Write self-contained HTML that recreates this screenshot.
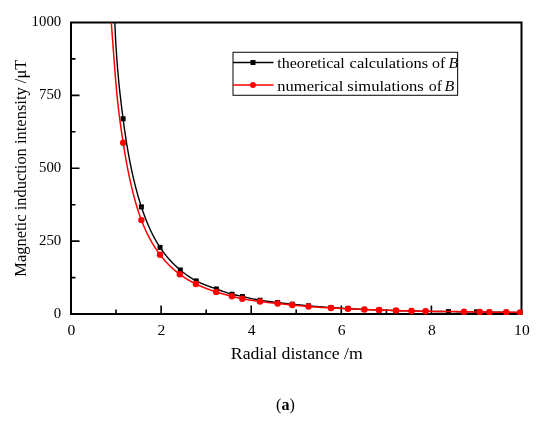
<!DOCTYPE html>
<html><head><meta charset="utf-8"><title>Figure</title>
<style>html,body{margin:0;padding:0;background:#fff;}body{width:550px;height:431px;overflow:hidden;}svg{display:block;}</style>
</head><body>
<svg width="550" height="431" viewBox="0 0 550 431">
<defs><clipPath id="pc"><rect x="70.0" y="22.5" width="452.5" height="292.5"/></clipPath></defs>
<path d="M71.0,22.5 H521.5 V314.0 H71.0 Z" stroke="#000" stroke-width="2" fill="none" stroke-linecap="square"/>
<path d="M116.0,314.0 v-4.5 M161.1,314.0 v-8.5 M206.2,314.0 v-4.5 M251.2,314.0 v-8.5 M296.2,314.0 v-4.5 M341.3,314.0 v-8.5 M386.4,314.0 v-4.5 M431.4,314.0 v-8.5 M476.4,314.0 v-4.5 M71.0,277.6 h4.5 M71.0,241.1 h8.5 M71.0,204.7 h4.5 M71.0,168.2 h8.5 M71.0,131.8 h4.5 M71.0,95.4 h8.5 M71.0,58.9 h4.5" stroke="#000" stroke-width="1.6" fill="none"/>
<g clip-path="url(#pc)">
<polyline points="114.80,22.50 115.06,28.08 115.31,33.52 115.57,38.72 115.83,43.56 116.10,47.95 116.36,51.98 116.63,55.84 116.89,59.55 117.16,63.10 117.43,66.52 117.70,69.82 117.98,73.00 118.25,76.08 118.53,79.05 118.81,81.94 119.09,84.75 119.37,87.48 119.65,90.15 119.93,92.76 120.22,95.32 120.51,97.84 120.80,100.32 121.09,102.76 121.38,105.18 121.68,107.57 121.97,109.95 122.27,112.32 122.57,114.68 122.87,117.04 123.18,119.40 123.48,121.74 123.79,124.04 124.10,126.31 124.41,128.54 124.72,130.74 125.04,132.91 125.35,135.05 125.67,137.15 125.99,139.23 126.31,141.27 126.64,143.29 126.96,145.28 127.29,147.24 127.62,149.18 127.95,151.09 128.28,152.97 128.62,154.83 128.96,156.67 129.29,158.48 129.64,160.27 129.98,162.03 130.32,163.77 130.67,165.50 131.02,167.20 131.37,168.87 131.72,170.53 132.08,172.17 132.44,173.79 132.80,175.39 133.16,176.97 133.52,178.54 133.89,180.08 134.26,181.61 134.63,183.12 135.00,184.61 135.37,186.09 135.75,187.55 136.13,188.99 136.51,190.42 136.89,191.84 137.28,193.24 137.67,194.62 138.06,195.99 138.45,197.35 138.84,198.69 139.24,200.02 139.64,201.34 140.04,202.64 140.44,203.93 140.85,205.21 141.26,206.47 141.67,207.72 142.08,208.96 142.50,210.19 142.92,211.40 143.34,212.60 143.76,213.78 144.19,214.95 144.62,216.11 145.05,217.26 145.48,218.39 145.92,219.51 146.36,220.61 146.80,221.71 147.24,222.79 147.69,223.86 148.13,224.92 148.59,225.96 149.04,227.00 149.50,228.02 149.96,229.03 150.42,230.02 150.88,231.01 151.35,231.99 151.82,232.95 152.29,233.90 152.77,234.84 153.25,235.77 153.73,236.69 154.21,237.60 154.70,238.50 155.19,239.38 155.68,240.26 156.18,241.13 156.68,241.98 157.18,242.83 157.68,243.67 158.19,244.49 158.70,245.31 159.21,246.11 159.73,246.91 160.25,247.70 160.77,248.47 161.29,249.24 161.82,250.00 162.35,250.75 162.89,251.49 163.43,252.22 163.97,252.94 164.51,253.65 165.06,254.35 165.61,255.05 166.16,255.74 166.72,256.41 167.28,257.09 167.84,257.75 168.41,258.41 168.98,259.06 169.55,259.70 170.13,260.33 170.71,260.96 171.29,261.58 171.88,262.19 172.47,262.80 173.06,263.40 173.66,263.99 174.26,264.58 174.86,265.16 175.47,265.74 176.08,266.31 176.70,266.87 177.32,267.43 177.94,267.98 178.57,268.53 179.19,269.07 179.83,269.61 180.46,270.14 181.10,270.66 181.75,271.19 182.40,271.71 183.05,272.23 183.70,272.74 184.36,273.25 185.03,273.75 185.69,274.25 186.37,274.74 187.04,275.23 187.72,275.71 188.40,276.18 189.09,276.65 189.78,277.11 190.48,277.56 191.17,278.00 191.88,278.44 192.59,278.87 193.30,279.29 194.01,279.70 194.73,280.11 195.46,280.50 196.18,280.89 196.92,281.27 197.65,281.64 198.39,282.00 199.14,282.35 199.89,282.69 200.64,283.03 201.40,283.36 202.17,283.68 202.93,284.00 203.70,284.31 204.48,284.62 205.26,284.93 206.05,285.24 206.84,285.54 207.63,285.84 208.43,286.13 209.24,286.43 210.05,286.73 210.86,287.02 211.68,287.32 212.50,287.61 213.33,287.91 214.16,288.20 215.00,288.50 215.84,288.80 216.69,289.10 217.54,289.41 218.40,289.72 219.26,290.03 220.13,290.35 221.00,290.66 221.88,290.98 222.76,291.29 223.65,291.60 224.54,291.91 225.44,292.21 226.35,292.51 227.25,292.80 228.17,293.08 229.09,293.36 230.01,293.63 230.94,293.89 231.88,294.14 232.82,294.38 233.77,294.61 234.72,294.84 235.68,295.05 236.64,295.26 237.61,295.47 238.59,295.68 239.57,295.89 240.55,296.10 241.54,296.31 242.54,296.53 243.55,296.76 244.56,296.99 245.57,297.22 246.59,297.46 247.62,297.69 248.65,297.93 249.69,298.16 250.74,298.40 251.79,298.63 252.85,298.85 253.91,299.07 254.98,299.29 256.06,299.50 257.14,299.70 258.23,299.90 259.33,300.09 260.43,300.27 261.54,300.44 262.65,300.61 263.77,300.77 264.90,300.92 266.04,301.08 267.18,301.23 268.32,301.37 269.48,301.52 270.64,301.66 271.81,301.80 272.98,301.94 274.17,302.09 275.35,302.23 276.55,302.37 277.75,302.52 278.96,302.67 280.18,302.81 281.40,302.96 282.63,303.11 283.87,303.25 285.12,303.40 286.37,303.54 287.63,303.68 288.90,303.83 290.17,303.97 291.46,304.11 292.75,304.25 294.04,304.39 295.35,304.52 296.66,304.66 297.98,304.79 299.31,304.93 300.65,305.06 301.99,305.19 303.34,305.32 304.70,305.45 306.07,305.58 307.44,305.70 308.83,305.83 310.22,305.95 311.62,306.08 313.03,306.20 314.44,306.33 315.87,306.45 317.30,306.57 318.74,306.69 320.19,306.80 321.65,306.92 323.11,307.03 324.59,307.15 326.07,307.26 327.57,307.36 329.07,307.47 330.58,307.57 332.10,307.67 333.62,307.77 335.16,307.87 336.71,307.96 338.26,308.06 339.83,308.15 341.40,308.24 342.98,308.33 344.57,308.41 346.17,308.50 347.78,308.59 349.40,308.67 351.03,308.76 352.67,308.84 354.32,308.93 355.98,309.01 357.64,309.09 359.32,309.17 361.01,309.25 362.70,309.32 364.41,309.40 366.13,309.48 367.85,309.55 369.59,309.62 371.34,309.69 373.10,309.77 374.86,309.84 376.64,309.91 378.43,309.97 380.23,310.04 382.04,310.11 383.86,310.18 385.69,310.25 387.53,310.32 389.38,310.38 391.24,310.45 393.12,310.51 395.00,310.57 396.90,310.63 398.81,310.68 400.72,310.73 402.65,310.78 404.59,310.83 406.55,310.88 408.51,310.93 410.48,310.98 412.47,311.02 414.47,311.07 416.48,311.12 418.50,311.16 420.53,311.20 422.58,311.25 424.64,311.28 426.70,311.32 428.79,311.35 430.88,311.38 432.99,311.41 435.10,311.44 437.23,311.47 439.38,311.49 441.53,311.52 443.70,311.54 445.88,311.57 448.07,311.59 450.28,311.62 452.50,311.65 454.73,311.67 456.98,311.69 459.24,311.71 461.51,311.74 463.79,311.76 466.09,311.78 468.40,311.81 470.73,311.83 473.07,311.86 475.42,311.89 477.79,311.92 480.17,311.95 482.56,311.99 484.97,312.03 487.39,312.07 489.83,312.11 492.28,312.14 494.74,312.17 497.22,312.20 499.72,312.23 502.22,312.26 504.75,312.29 507.29,312.31 509.84,312.33 512.41,312.35 514.99,312.37 517.59,312.38 520.20,312.40" fill="none" stroke="#000" stroke-width="1.4" stroke-linejoin="round"/>
<rect x="120.60" y="116.30" width="5" height="5" fill="#000"/>
<rect x="138.90" y="204.40" width="5" height="5" fill="#000"/>
<rect x="157.55" y="244.90" width="5" height="5" fill="#000"/>
<rect x="177.80" y="267.50" width="5" height="5" fill="#000"/>
<rect x="193.70" y="278.40" width="5" height="5" fill="#000"/>
<rect x="213.90" y="286.50" width="5" height="5" fill="#000"/>
<rect x="229.60" y="291.70" width="5" height="5" fill="#000"/>
<rect x="239.90" y="294.00" width="5" height="5" fill="#000"/>
<rect x="257.50" y="297.70" width="5" height="5" fill="#000"/>
<rect x="275.10" y="300.00" width="5" height="5" fill="#000"/>
<rect x="289.80" y="301.70" width="5" height="5" fill="#000"/>
<rect x="306.00" y="303.30" width="5" height="5" fill="#000"/>
<rect x="328.50" y="305.10" width="5" height="5" fill="#000"/>
<rect x="345.50" y="306.10" width="5" height="5" fill="#000"/>
<rect x="361.90" y="306.90" width="5" height="5" fill="#000"/>
<rect x="376.60" y="307.50" width="5" height="5" fill="#000"/>
<rect x="393.50" y="308.10" width="5" height="5" fill="#000"/>
<rect x="409.00" y="308.50" width="5" height="5" fill="#000"/>
<rect x="423.10" y="308.80" width="5" height="5" fill="#000"/>
<rect x="446.00" y="309.10" width="5" height="5" fill="#000"/>
<rect x="474.00" y="309.40" width="5" height="5" fill="#000"/>
<rect x="486.90" y="309.60" width="5" height="5" fill="#000"/>
<rect x="503.80" y="309.80" width="5" height="5" fill="#000"/>
<rect x="517.70" y="309.90" width="5" height="5" fill="#000"/>
<polyline points="111.30,22.50 111.54,25.85 111.79,29.19 112.04,32.53 112.29,35.87 112.54,39.21 112.79,42.55 113.04,45.91 113.30,49.27 113.55,52.67 113.81,56.10 114.07,59.55 114.33,63.00 114.59,66.44 114.86,69.87 115.12,73.26 115.39,76.61 115.66,79.91 115.93,83.15 116.20,86.32 116.48,89.41 116.75,92.42 117.03,95.33 117.31,98.14 117.59,100.85 117.87,103.48 118.16,106.04 118.44,108.53 118.73,110.96 119.02,113.33 119.31,115.65 119.60,117.93 119.90,120.17 120.19,122.37 120.49,124.54 120.79,126.68 121.09,128.79 121.40,130.89 121.70,132.96 122.01,135.02 122.32,137.07 122.63,139.11 122.94,141.14 123.26,143.17 123.57,145.19 123.89,147.19 124.21,149.17 124.54,151.13 124.86,153.07 125.19,154.99 125.52,156.89 125.85,158.77 126.18,160.63 126.51,162.47 126.85,164.30 127.19,166.10 127.53,167.89 127.87,169.65 128.22,171.40 128.56,173.12 128.91,174.83 129.26,176.52 129.62,178.19 129.97,179.84 130.33,181.47 130.69,183.08 131.05,184.67 131.41,186.24 131.78,187.80 132.15,189.33 132.52,190.85 132.89,192.35 133.27,193.83 133.64,195.29 134.02,196.74 134.41,198.16 134.79,199.57 135.18,200.96 135.57,202.33 135.96,203.69 136.35,205.02 136.75,206.34 137.15,207.65 137.55,208.93 137.95,210.20 138.36,211.45 138.76,212.68 139.18,213.90 139.59,215.10 140.00,216.29 140.42,217.46 140.84,218.61 141.27,219.75 141.69,220.87 142.12,221.97 142.55,223.06 142.99,224.14 143.42,225.20 143.86,226.25 144.30,227.28 144.75,228.30 145.19,229.31 145.64,230.30 146.10,231.28 146.55,232.25 147.01,233.21 147.47,234.16 147.93,235.09 148.40,236.01 148.87,236.92 149.34,237.82 149.82,238.71 150.29,239.59 150.77,240.46 151.26,241.32 151.74,242.17 152.23,243.01 152.73,243.84 153.22,244.66 153.72,245.47 154.22,246.27 154.73,247.07 155.23,247.85 155.74,248.63 156.26,249.40 156.77,250.16 157.29,250.91 157.82,251.65 158.34,252.39 158.87,253.12 159.40,253.84 159.94,254.56 160.48,255.26 161.02,255.96 161.57,256.65 162.12,257.34 162.67,258.01 163.22,258.68 163.78,259.35 164.35,260.00 164.91,260.65 165.48,261.29 166.05,261.92 166.63,262.54 167.21,263.16 167.79,263.77 168.38,264.38 168.97,264.97 169.56,265.57 170.16,266.15 170.76,266.73 171.37,267.30 171.97,267.86 172.59,268.42 173.20,268.97 173.82,269.51 174.45,270.05 175.07,270.58 175.70,271.11 176.34,271.63 176.98,272.14 177.62,272.64 178.26,273.15 178.92,273.64 179.57,274.13 180.23,274.61 180.89,275.09 181.56,275.56 182.23,276.03 182.90,276.49 183.58,276.95 184.26,277.40 184.95,277.85 185.64,278.29 186.33,278.72 187.03,279.15 187.73,279.58 188.44,280.00 189.15,280.41 189.87,280.83 190.59,281.23 191.32,281.63 192.04,282.03 192.78,282.42 193.52,282.80 194.26,283.18 195.01,283.56 195.76,283.93 196.51,284.30 197.27,284.66 198.04,285.01 198.81,285.36 199.58,285.71 200.36,286.05 201.15,286.39 201.94,286.72 202.73,287.05 203.53,287.38 204.33,287.70 205.14,288.01 205.95,288.33 206.77,288.64 207.59,288.95 208.42,289.25 209.26,289.55 210.09,289.85 210.94,290.15 211.78,290.44 212.64,290.73 213.50,291.02 214.36,291.30 215.23,291.59 216.10,291.87 216.98,292.15 217.87,292.42 218.76,292.70 219.65,292.97 220.55,293.24 221.46,293.50 222.37,293.77 223.29,294.03 224.21,294.29 225.14,294.54 226.08,294.80 227.02,295.05 227.96,295.30 228.91,295.55 229.87,295.79 230.83,296.03 231.80,296.28 232.78,296.52 233.76,296.76 234.74,297.00 235.74,297.24 236.73,297.48 237.74,297.72 238.75,297.95 239.77,298.18 240.79,298.39 241.82,298.60 242.85,298.81 243.90,299.01 244.94,299.20 246.00,299.39 247.06,299.57 248.13,299.75 249.20,299.93 250.28,300.10 251.37,300.27 252.46,300.44 253.56,300.60 254.67,300.76 255.78,300.92 256.90,301.08 258.03,301.23 259.16,301.39 260.30,301.54 261.45,301.69 262.60,301.83 263.76,301.97 264.93,302.11 266.11,302.25 267.29,302.38 268.48,302.52 269.68,302.65 270.88,302.78 272.09,302.91 273.31,303.04 274.54,303.17 275.77,303.31 277.01,303.44 278.26,303.57 279.52,303.70 280.78,303.84 282.05,303.97 283.33,304.10 284.62,304.23 285.91,304.36 287.22,304.50 288.53,304.63 289.84,304.76 291.17,304.89 292.51,305.02 293.85,305.15 295.20,305.28 296.56,305.42 297.93,305.55 299.30,305.68 300.68,305.82 302.08,305.95 303.48,306.07 304.89,306.20 306.30,306.32 307.73,306.44 309.17,306.55 310.61,306.67 312.06,306.78 313.52,306.89 314.99,306.99 316.47,307.10 317.96,307.20 319.46,307.30 320.96,307.40 322.48,307.50 324.00,307.59 325.53,307.69 327.08,307.78 328.63,307.87 330.19,307.96 331.76,308.04 333.34,308.12 334.93,308.20 336.53,308.28 338.14,308.36 339.76,308.43 341.39,308.51 343.03,308.58 344.68,308.65 346.34,308.73 348.01,308.80 349.68,308.88 351.37,308.95 353.07,309.03 354.78,309.10 356.50,309.18 358.23,309.25 359.97,309.33 361.73,309.40 363.49,309.47 365.26,309.53 367.04,309.60 368.84,309.66 370.64,309.72 372.46,309.78 374.29,309.84 376.13,309.90 377.97,309.96 379.84,310.02 381.71,310.08 383.59,310.14 385.49,310.19 387.39,310.25 389.31,310.30 391.24,310.36 393.18,310.41 395.13,310.47 397.10,310.53 399.07,310.60 401.06,310.67 403.06,310.74 405.08,310.81 407.10,310.87 409.14,310.94 411.19,310.99 413.25,311.04 415.32,311.09 417.41,311.14 419.51,311.19 421.62,311.23 423.75,311.27 425.89,311.30 428.04,311.34 430.20,311.36 432.38,311.39 434.57,311.41 436.77,311.43 438.99,311.45 441.22,311.47 443.46,311.49 445.72,311.51 447.99,311.53 450.28,311.55 452.58,311.57 454.89,311.59 457.22,311.62 459.56,311.64 461.91,311.67 464.28,311.70 466.66,311.74 469.06,311.79 471.48,311.84 473.90,311.90 476.35,311.94 478.80,311.99 481.27,312.02 483.76,312.04 486.26,312.07 488.78,312.09 491.31,312.12 493.86,312.15 496.42,312.19 499.00,312.22 501.59,312.25 504.20,312.28 506.83,312.30 509.47,312.33 512.13,312.35 514.80,312.37 517.49,312.38 520.20,312.40" fill="none" stroke="#f00" stroke-width="1.5" stroke-linejoin="round"/>
<circle cx="123.20" cy="142.80" r="3.2" fill="#f00"/>
<circle cx="141.40" cy="220.10" r="3.2" fill="#f00"/>
<circle cx="160.05" cy="254.70" r="3.2" fill="#f00"/>
<circle cx="179.80" cy="274.30" r="3.2" fill="#f00"/>
<circle cx="195.90" cy="284.00" r="3.2" fill="#f00"/>
<circle cx="216.20" cy="291.90" r="3.2" fill="#f00"/>
<circle cx="231.90" cy="296.30" r="3.2" fill="#f00"/>
<circle cx="242.30" cy="298.70" r="3.2" fill="#f00"/>
<circle cx="260.00" cy="301.50" r="3.2" fill="#f00"/>
<circle cx="277.60" cy="303.50" r="3.2" fill="#f00"/>
<circle cx="292.30" cy="305.00" r="3.2" fill="#f00"/>
<circle cx="308.50" cy="306.50" r="3.2" fill="#f00"/>
<circle cx="331.00" cy="308.00" r="3.2" fill="#f00"/>
<circle cx="348.00" cy="308.80" r="3.2" fill="#f00"/>
<circle cx="364.40" cy="309.50" r="3.2" fill="#f00"/>
<circle cx="379.10" cy="310.00" r="3.2" fill="#f00"/>
<circle cx="396.00" cy="310.50" r="3.2" fill="#f00"/>
<circle cx="411.50" cy="311.00" r="3.2" fill="#f00"/>
<circle cx="425.60" cy="311.30" r="3.2" fill="#f00"/>
<circle cx="464.00" cy="311.70" r="3.2" fill="#f00"/>
<circle cx="479.80" cy="312.00" r="3.2" fill="#f00"/>
<circle cx="489.40" cy="312.10" r="3.2" fill="#f00"/>
<circle cx="506.30" cy="312.30" r="3.2" fill="#f00"/>
<circle cx="520.20" cy="312.40" r="3.2" fill="#f00"/>
</g>
<text x="71.4" y="334.5" font-size="15.6" text-anchor="middle" font-family="Liberation Serif, serif">0</text>
<text x="161.5" y="334.5" font-size="15.6" text-anchor="middle" font-family="Liberation Serif, serif">2</text>
<text x="251.6" y="334.5" font-size="15.6" text-anchor="middle" font-family="Liberation Serif, serif">4</text>
<text x="341.7" y="334.5" font-size="15.6" text-anchor="middle" font-family="Liberation Serif, serif">6</text>
<text x="431.8" y="334.5" font-size="15.6" text-anchor="middle" font-family="Liberation Serif, serif">8</text>
<text x="521.9" y="334.5" font-size="15.6" text-anchor="middle" font-family="Liberation Serif, serif">10</text>
<text x="61.2" y="317.8" font-size="15.6" text-anchor="end" transform="translate(61.2 0) scale(0.95 1) translate(-61.2 0)" font-family="Liberation Serif, serif">0</text>
<text x="61.2" y="244.9" font-size="15.6" text-anchor="end" transform="translate(61.2 0) scale(0.95 1) translate(-61.2 0)" font-family="Liberation Serif, serif">250</text>
<text x="61.2" y="172.1" font-size="15.6" text-anchor="end" transform="translate(61.2 0) scale(0.95 1) translate(-61.2 0)" font-family="Liberation Serif, serif">500</text>
<text x="61.2" y="99.2" font-size="15.6" text-anchor="end" transform="translate(61.2 0) scale(0.95 1) translate(-61.2 0)" font-family="Liberation Serif, serif">750</text>
<text x="61.2" y="26.3" font-size="15.6" text-anchor="end" transform="translate(61.2 0) scale(0.95 1) translate(-61.2 0)" font-family="Liberation Serif, serif">1000</text>
<text x="230.8" y="358.9" font-size="16" textLength="132" lengthAdjust="spacingAndGlyphs" font-family="Liberation Serif, serif">Radial distance /m</text>
<text transform="translate(26,276.7) rotate(-90)" x="0" y="0" font-size="16" textLength="217" lengthAdjust="spacingAndGlyphs" font-family="Liberation Serif, serif">Magnetic induction intensity /μT</text>
<rect x="233" y="52.3" width="224.6" height="43" fill="#fff" stroke="#1a1a1a" stroke-width="1.1"/>
<line x1="233" y1="62.5" x2="273.5" y2="62.5" stroke="#000" stroke-width="1.4"/>
<rect x="250.5" y="60" width="5" height="5" fill="#000"/>
<line x1="233" y1="85" x2="273.5" y2="85" stroke="#f00" stroke-width="1.6"/>
<circle cx="253" cy="85" r="3" fill="#f00"/>
<text y="68.3" font-size="15" font-family="Liberation Serif, serif"><tspan x="277.3" textLength="67.5" lengthAdjust="spacingAndGlyphs">theoretical</tspan> <tspan x="349.6" textLength="78.5" lengthAdjust="spacingAndGlyphs">calculations</tspan> <tspan x="432" textLength="13.3" lengthAdjust="spacingAndGlyphs">of</tspan> <tspan x="448.4" font-style="italic" textLength="9.8" lengthAdjust="spacingAndGlyphs">B</tspan></text>
<text y="90.7" font-size="15" font-family="Liberation Serif, serif"><tspan x="277.3" textLength="66" lengthAdjust="spacingAndGlyphs">numerical</tspan> <tspan x="347.2" textLength="76.5" lengthAdjust="spacingAndGlyphs">simulations</tspan> <tspan x="428.8" textLength="13.3" lengthAdjust="spacingAndGlyphs">of</tspan> <tspan x="444.4" font-style="italic" textLength="9.8" lengthAdjust="spacingAndGlyphs">B</tspan></text>
<text x="285.4" y="409.6" font-size="16" text-anchor="middle" font-family="Liberation Serif, serif">(<tspan font-weight="bold">a</tspan>)</text>
</svg>
</body></html>
